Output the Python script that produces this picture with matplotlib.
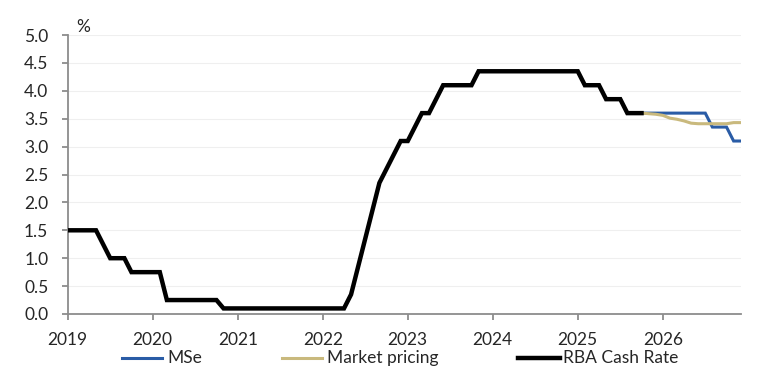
import matplotlib
matplotlib.use("Agg")
import matplotlib.pyplot as plt
from matplotlib.lines import Line2D
import numpy as np

plt.rcParams['font.family'] = ['Lato', 'DejaVu Sans']

# Monthly index: 0 = Jan 2019 ... 95 = Dec 2026
years = [2019, 2020, 2021, 2022, 2023, 2024, 2025, 2026]

rba_cash_rate = (
    [1.5, 1.5, 1.5, 1.5, 1.5, 1.25, 1.0, 1.0, 1.0, 0.75, 0.75, 0.75]        # 2019
    + [0.75, 0.75, 0.25, 0.25, 0.25, 0.25, 0.25, 0.25, 0.25, 0.25, 0.1, 0.1]  # 2020
    + [0.1] * 12                                                            # 2021
    + [0.1, 0.1, 0.1, 0.1, 0.35, 0.85, 1.35, 1.85, 2.35, 2.6, 2.85, 3.1]     # 2022
    + [3.1, 3.35, 3.6, 3.6, 3.85, 4.1, 4.1, 4.1, 4.1, 4.1, 4.35, 4.35]       # 2023
    + [4.35] * 12                                                           # 2024
    + [4.35, 4.1, 4.1, 4.1, 3.85, 3.85, 3.85, 3.6, 3.6, 3.6]               # 2025 Jan-Oct
)

# Forecasts from Oct 2025 (index 81) to Dec 2026 (index 95)
mse = [3.6, 3.6, 3.6, 3.6, 3.6, 3.6, 3.6, 3.6, 3.6, 3.6,
       3.35, 3.35, 3.35, 3.1, 3.1]
market_pricing = [3.60, 3.59, 3.58, 3.56, 3.51, 3.49, 3.46, 3.42, 3.41, 3.41,
                  3.41, 3.41, 3.41, 3.43, 3.43]

x_rba = np.arange(len(rba_cash_rate))
x_fc = np.arange(len(rba_cash_rate) - 1, len(rba_cash_rate) - 1 + len(mse))

fig = plt.figure(figsize=(7.68, 3.82), dpi=100)
ax = fig.add_axes([67.7 / 768, 1 - 314 / 382, (740.7 - 67.7) / 768, (314 - 35) / 382])

blue = '#2A5CA6'
tan = '#C9B97D'

ax.plot(x_fc, market_pricing, color=tan, lw=2.2, solid_joinstyle='miter', zorder=3)
ax.plot(x_fc, mse, color=blue, lw=2.2, solid_joinstyle='miter', zorder=2)
ax.plot(x_rba, rba_cash_rate, color='black', lw=3.2, solid_joinstyle='miter', zorder=4)

ax.set_xlim(0, 95)
ax.set_ylim(0, 5)
ax.set_yticks(np.arange(0, 5.01, 0.5))
ax.set_yticklabels([f'{v:.1f}' for v in np.arange(0, 5.01, 0.5)])
ax.set_xticks([12 * i for i in range(len(years))])
ax.set_xticklabels([str(y) for y in years])

ax.grid(axis='y', color='#EFEFEF', lw=0.8)
ax.set_axisbelow(True)
for s in ['top', 'right']:
    ax.spines[s].set_visible(False)
for s in ['left', 'bottom']:
    ax.spines[s].set_color('#8C8C8C')
    ax.spines[s].set_linewidth(1.3)
ax.tick_params(axis='both', colors='#8C8C8C', width=1.3, length=4, labelsize=12.5,
               labelcolor='#262626')
ax.tick_params(axis='y', pad=10)
ax.tick_params(axis='x', pad=9)

fig.text(83 / 768, 1 - 27 / 382, '%', fontsize=12.5, color='#262626', ha='center', va='center')

# Legend drawn manually below the axes
leg_y = 1 - 358 / 382
items = [(122, 162, 167, 'MSe', blue, 2.2),
         (282, 322, 327, 'Market pricing', tan, 2.2),
         (518, 560, 563, 'RBA Cash Rate', 'black', 3.2)]
for x0, x1, xt, label, c, lw in items:
    fig.add_artist(Line2D([x0 / 768, x1 / 768], [leg_y, leg_y], color=c, lw=lw,
                          transform=fig.transFigure))
    fig.text(xt / 768, leg_y, label, fontsize=12.5, color='#262626', ha='left', va='center')

fig.savefig('out.png', dpi=100)
